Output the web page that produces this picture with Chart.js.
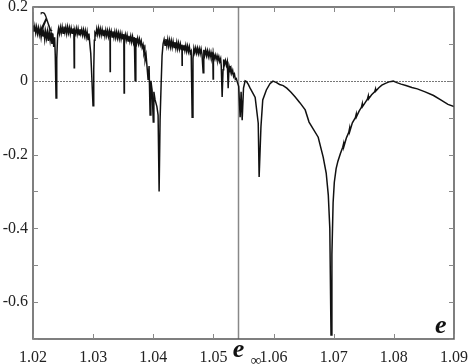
<!DOCTYPE html>
<html>
<head>
<meta charset="utf-8">
<script src="https://cdn.jsdelivr.net/npm/chart.js@4.4.0/dist/chart.umd.min.js"></script>
<style>
html, body { margin: 0; padding: 0; background: #fff; }
</style>
</head>
<body>
<canvas id="grafik" width="474" height="364"></canvas>
<script>
// [e, lambda] ciftleri
var lyapunov = [
    [1.02000, 0.150], [1.02015, 0.133], [1.02030, 0.148], [1.02045, 0.130], [1.02060, 0.146],
    [1.02075, 0.128], [1.02090, 0.143], [1.02105, 0.125], [1.02120, 0.140], [1.02135, 0.118],
    [1.02150, 0.137], [1.02165, 0.120], [1.02180, 0.135], [1.02195, 0.112], [1.02210, 0.134],
    [1.02225, 0.115], [1.02240, 0.133], [1.02255, 0.108], [1.02270, 0.132], [1.02285, 0.110],
    [1.02300, 0.130], [1.02315, 0.100], [1.02330, 0.128], [1.02345, 0.092], [1.02360, 0.118],
    [1.02370, 0.070], [1.02383, -0.047], [1.02395, 0.060], [1.02410, 0.125],
    [1.02425, 0.142], [1.0244, 0.128], [1.02455, 0.145], [1.0247, 0.130], [1.02485, 0.146],
    [1.0250, 0.129], [1.02515, 0.147], [1.0253, 0.131], [1.02545, 0.145], [1.0256, 0.128],
    [1.02575, 0.146], [1.0259, 0.130], [1.02605, 0.144], [1.0262, 0.127], [1.02635, 0.143],
    [1.0265, 0.129], [1.02665, 0.142], [1.0268, 0.126], [1.02685, 0.035], [1.0269, 0.138],
    [1.02705, 0.128], [1.0272, 0.142], [1.02735, 0.126], [1.0275, 0.141], [1.02765, 0.125],
    [1.0278, 0.140], [1.02795, 0.127], [1.0281, 0.139], [1.02825, 0.124], [1.0284, 0.138],
    [1.02855, 0.122], [1.0287, 0.136], [1.02885, 0.118], [1.0290, 0.133], [1.02915, 0.112],
    [1.0293, 0.128], [1.02945, 0.100], [1.0296, 0.075], [1.0297, 0.040], [1.02998, -0.068],
    [1.0301, 0.030], [1.0302, 0.110], [1.0303, 0.130],
    [1.03045, 0.125], [1.0306, 0.141], [1.03075, 0.126], [1.0309, 0.142], [1.03105, 0.125],
    [1.0312, 0.140], [1.03135, 0.124], [1.0315, 0.139], [1.03165, 0.123], [1.0318, 0.138],
    [1.03195, 0.121], [1.0321, 0.137], [1.03225, 0.122], [1.0324, 0.136], [1.03255, 0.120],
    [1.0327, 0.135], [1.0328, 0.120], [1.03283, 0.025], [1.03286, 0.125], [1.0330, 0.135],
    [1.03315, 0.119], [1.0333, 0.134], [1.03345, 0.118], [1.0336, 0.133], [1.03375, 0.117],
    [1.0339, 0.132], [1.03405, 0.116], [1.0342, 0.130], [1.03435, 0.114], [1.0345, 0.129],
    [1.03465, 0.113], [1.0348, 0.127], [1.03495, 0.112], [1.0351, 0.126], [1.03515, -0.033],
    [1.0352, 0.112], [1.03535, 0.125], [1.0355, 0.110], [1.03565, 0.124], [1.0358, 0.108],
    [1.03595, 0.122], [1.0361, 0.107], [1.03625, 0.121], [1.0364, 0.105], [1.03655, 0.120],
    [1.0367, 0.104], [1.03685, 0.118], [1.03698, 0.000], [1.0371, 0.116], [1.03725, 0.102],
    [1.0374, 0.115], [1.03755, 0.100], [1.0377, 0.113], [1.03785, 0.098], [1.0380, 0.108],
    [1.03815, 0.090], [1.0383, 0.098], [1.03845, 0.075], [1.0386, 0.085], [1.03864, 0.056],
    [1.0388, 0.070], [1.03914, 0.002], [1.0393, 0.040], [1.03947, -0.093], [1.0396, 0.000],
    [1.0398, -0.025], [1.0400, -0.112], [1.0401, -0.030], [1.0403, -0.052], [1.0406, -0.070],
    [1.0408, -0.093], [1.04097, -0.300], [1.04113, -0.106], [1.0413, -0.012], [1.04146, 0.068],
    [1.04163, 0.100],
    [1.0418, 0.112], [1.04195, 0.096], [1.0421, 0.113], [1.04225, 0.095], [1.0424, 0.112],
    [1.04255, 0.094], [1.0427, 0.110], [1.04285, 0.092], [1.0430, 0.108], [1.04315, 0.091],
    [1.0433, 0.106], [1.04345, 0.090], [1.0436, 0.105], [1.04375, 0.088], [1.0439, 0.104],
    [1.04405, 0.087], [1.0442, 0.102], [1.04435, 0.086], [1.0445, 0.100], [1.04465, 0.085],
    [1.04476, 0.098], [1.04479, 0.042], [1.04482, 0.096], [1.04495, 0.084], [1.0451, 0.097],
    [1.04525, 0.082], [1.0454, 0.096], [1.04555, 0.080], [1.0457, 0.094], [1.04585, 0.079],
    [1.0460, 0.092], [1.04615, 0.075], [1.0463, 0.080], [1.04646, -0.099], [1.0466, 0.060],
    [1.04675, 0.088], [1.0469, 0.076], [1.04705, 0.089], [1.0472, 0.075], [1.04735, 0.088],
    [1.0475, 0.074], [1.04765, 0.087], [1.0478, 0.073], [1.04795, 0.086], [1.0481, 0.072],
    [1.04829, 0.022], [1.0484, 0.084], [1.04855, 0.070], [1.0487, 0.083], [1.04885, 0.068],
    [1.0490, 0.081], [1.04915, 0.066], [1.0493, 0.079], [1.04945, 0.064], [1.0496, 0.077],
    [1.04975, 0.063], [1.0499, 0.074], [1.04995, 0.005], [1.0500, 0.072], [1.05015, 0.060],
    [1.0503, 0.070], [1.05045, 0.058], [1.0506, 0.068], [1.05075, 0.055], [1.0509, 0.065],
    [1.05105, 0.052], [1.0512, 0.060], [1.0513, 0.040], [1.05145, -0.044], [1.0516, 0.030],
    [1.0517, 0.058], [1.05185, 0.045], [1.0520, 0.055], [1.05215, 0.042], [1.0523, 0.052],
    [1.05245, -0.020], [1.0526, 0.040], [1.05275, 0.030], [1.0529, 0.036], [1.05305, 0.020],
    [1.0532, 0.028], [1.05335, 0.012], [1.0535, 0.018], [1.05365, 0.004], [1.0538, 0.006],
    [1.0540, -0.005], [1.0542, -0.015], [1.05444, -0.099], [1.0546, -0.030], [1.05478, -0.107],
    [1.0550, -0.020], [1.05527, 0.000], [1.0555, -0.002], [1.0558, -0.010], [1.0561, -0.020],
    [1.0566, -0.035], [1.05694, -0.045], [1.05745, -0.115], [1.0576, -0.261], [1.0579, -0.125],
    [1.0582, -0.052], [1.0588, -0.025], [1.0594, -0.008], [1.0599, -0.001], [1.0605, -0.005],
    [1.0610, -0.010], [1.0616, -0.013], [1.0622, -0.020], [1.0629, -0.031], [1.0636, -0.044],
    [1.0644, -0.060], [1.06526, -0.079], [1.0659, -0.112], [1.06742, -0.153], [1.06825, -0.207],
    [1.06875, -0.250], [1.0691, -0.310], [1.06935, -0.400], [1.06955, -0.689], [1.0697, -0.470],
    [1.0699, -0.330], [1.0701, -0.275], [1.0704, -0.238], [1.0707, -0.218], [1.0711, -0.198],
    [1.0715, -0.180], [1.07165, -0.170], [1.0717, -0.178], [1.0721, -0.155], [1.0725, -0.140],
    [1.07265, -0.128], [1.0727, -0.136], [1.0731, -0.114], [1.0736, -0.100], [1.07375, -0.090],
    [1.0738, -0.097], [1.0742, -0.083], [1.0746, -0.072], [1.07475, -0.062], [1.0748, -0.070],
    [1.0752, -0.060], [1.0756, -0.050], [1.07575, -0.041], [1.0758, -0.049], [1.0763, -0.038],
    [1.0768, -0.030], [1.07695, -0.022], [1.0770, -0.028], [1.0775, -0.019], [1.0780, -0.012],
    [1.0786, -0.007], [1.0792, -0.003], [1.0799, -0.001], [1.0805, -0.005], [1.0812, -0.009],
    [1.0820, -0.013], [1.0830, -0.018], [1.0839, -0.022], [1.0852, -0.030], [1.0866, -0.040],
    [1.0878, -0.052], [1.0890, -0.064], [1.0900, -0.070]
];

var xTicks = [1.02, 1.03, 1.04, 1.05, 1.06, 1.07, 1.08, 1.09];
var xLabels = ['1.02', '1.03', '1.04', '1.05', '1.06', '1.07', '1.08', '1.09'];
var yTicks = [0.2, 0.1, 0, -0.1, -0.2, -0.3, -0.4, -0.5, -0.6, -0.7];
var yLabels = ['0.2', '', '0', '', '-0.2', '', '-0.4', '', '-0.6', ''];
var eSonsuz = 1.05406;

var serif = "'Liberation Serif', serif";

var cerceve = {
    id: 'cerceve',
    beforeDatasetsDraw: function (chart) {
        var ctx = chart.ctx, a = chart.chartArea;
        var xs = chart.scales.x, ys = chart.scales.y;
        ctx.save();
        // sifir cizgisi
        var y0 = Math.round(ys.getPixelForValue(0)) + 0.5;
        ctx.strokeStyle = '#777';
        ctx.lineWidth = 1;
        ctx.setLineDash([2, 1]);
        ctx.beginPath();
        ctx.moveTo(a.left, y0);
        ctx.lineTo(a.right, y0);
        ctx.stroke();
        // e sonsuz dikey cizgi
        var xe = Math.round(xs.getPixelForValue(eSonsuz)) + 0.5;
        ctx.setLineDash([]);
        ctx.strokeStyle = '#888';
        ctx.lineWidth = 1.5;
        ctx.beginPath();
        ctx.moveTo(xe, a.top);
        ctx.lineTo(xe, a.bottom);
        ctx.stroke();
        ctx.restore();
    },
    afterDatasetsDraw: function (chart) {
        var ctx = chart.ctx, a = chart.chartArea;
        var xs = chart.scales.x, ys = chart.scales.y;
        ctx.save();
        ctx.strokeStyle = '#555';
        ctx.lineWidth = 1.5;
        ctx.strokeRect(a.left, a.top, a.right - a.left, a.bottom - a.top);
        ctx.lineWidth = 1;
        ctx.strokeStyle = '#888';
        ctx.beginPath();
        xTicks.forEach(function (v) {
            var px = Math.round(xs.getPixelForValue(v)) + 0.5;
            ctx.moveTo(px, a.bottom);
            ctx.lineTo(px, a.bottom - 5);
            ctx.moveTo(px, a.top);
            ctx.lineTo(px, a.top + 5);
        });
        yTicks.forEach(function (v) {
            var py = Math.round(ys.getPixelForValue(v)) + 0.5;
            ctx.moveTo(a.left, py);
            ctx.lineTo(a.left + 5, py);
            ctx.moveTo(a.right, py);
            ctx.lineTo(a.right - 5, py);
        });
        ctx.stroke();

        ctx.fillStyle = '#111';
        ctx.textBaseline = 'alphabetic';
        ctx.font = '28px ' + serif;
        ctx.fillText('\u03bb', 39, 31);
        ctx.font = 'bold italic 26px ' + serif;
        ctx.fillText('e', 435, 333);
        var xe = xs.getPixelForValue(eSonsuz);
        ctx.fillText('e', xe - 5, 357);
        ctx.font = '15px ' + serif;
        ctx.fillText('\u221e', xe + 13, 365);
        ctx.restore();
    }
};

var chart = new Chart('grafik', {
    type: 'scatter',
    data: {
        datasets: [{
            data: lyapunov.map(function (p) { return { x: p[0], y: p[1] }; }),
            showLine: true,
            fill: false,
            pointRadius: 0,
            borderColor: '#111',
            borderWidth: 1.5,
            tension: 0
        }]
    },
    options: {
        responsive: false,
        animation: false,
        devicePixelRatio: 1,
        layout: { padding: { top: 7, right: 20, left: 0, bottom: 0 } },
        plugins: {
            legend: { display: false },
            tooltip: { enabled: false }
        },
        scales: {
            x: {
                type: 'linear',
                min: 1.02,
                max: 1.09,
                afterBuildTicks: function (s) {
                    s.ticks = xTicks.map(function (v) { return { value: v }; });
                },
                afterFit: function (s) {
                    s.height = 25;
                    s.paddingLeft = 0;
                    s.paddingRight = 0;
                },
                grid: { display: false, drawTicks: false },
                border: { display: false },
                ticks: {
                    autoSkip: false,
                    maxRotation: 0,
                    padding: 9,
                    color: '#222',
                    font: { family: serif, size: 16 },
                    callback: function (v, i) { return xLabels[i]; }
                }
            },
            y: {
                min: -0.7,
                max: 0.2,
                afterBuildTicks: function (s) {
                    s.ticks = yTicks.map(function (v) { return { value: v }; });
                },
                afterFit: function (s) {
                    s.width = 33;
                    s.paddingTop = 0;
                    s.paddingBottom = 0;
                },
                grid: { display: false, drawTicks: false },
                border: { display: false },
                ticks: {
                    autoSkip: false,
                    padding: 5,
                    color: '#222',
                    font: { family: serif, size: 16 },
                    callback: function (v, i) { return yLabels[i]; }
                }
            }
        }
    },
    plugins: [cerceve]
});
</script>
</body>
</html>
